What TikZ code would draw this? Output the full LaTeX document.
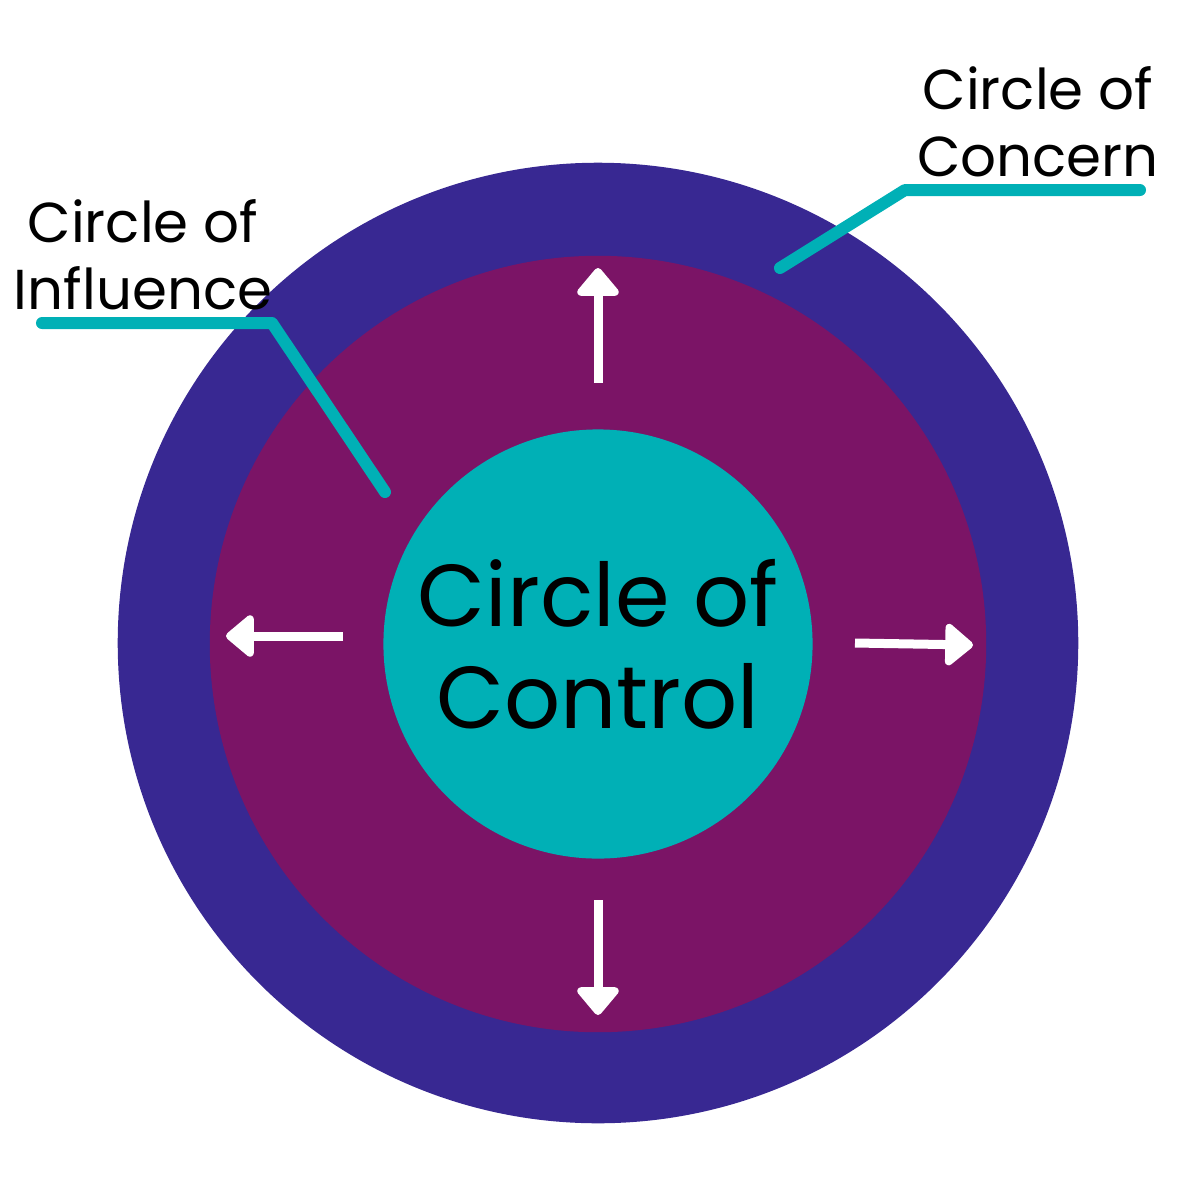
\documentclass[tikz,border=0pt]{standalone}
\usepackage{fontspec}
\setmainfont{Poppins}
\usetikzlibrary{arrows.meta,positioning}
\definecolor{concern}{HTML}{382892}
\definecolor{influence}{HTML}{7B1466}
\definecolor{control}{HTML}{00B0B6}
\tikzset{
    ring/.style={circle, draw=none, minimum size=#1},
    pointer/.style={draw=white, line width=0.09cm, -{Triangle[length=0.3cm,width=0.48cm,round]}},
    leader/.style={draw=control, line width=0.12cm, line cap=round, line join=round},
    label/.style={align=center, font=\fontsize{16}{19}\selectfont}
}
\begin{document}
\begin{tikzpicture}[x=0.01cm,y=-0.01cm]
    \useasboundingbox (0,0) rectangle (1181,1181);
    % rings
    \node[ring=9.6cm, fill=concern] (c1) at (598,643) {};
    \node[ring=7.76cm, fill=influence] (c2) at (598,644) {};
    \node[ring=4.18cm, fill=control, align=center, font=\fontsize{25}{29}\selectfont] (c3) at (598,644) {Circle of\\Control};
    % arrows
    \coordinate (u0) at (598,383); \coordinate (u1) at (598,268);
    \coordinate (l0) at (343,636); \coordinate (l1) at (226,636);
    \coordinate (r0) at (855,643); \coordinate (r1) at (973,645);
    \coordinate (d0) at (598,900); \coordinate (d1) at (598,1015);
    \draw[pointer] (u0) -- (u1);
    \draw[pointer] (l0) -- (l1);
    \draw[pointer] (r0) -- (r1);
    \draw[pointer] (d0) -- (d1);
    % labels
    \node[label] (concernlabel) at (1038,122) {Circle of\\Concern};
    \node[label] (influencelabel) at (143,255) {Circle of\\Influence};
    \coordinate (k0) at (780,268); \coordinate (k1) at (905,190); \coordinate (k2) at (1140,190);
    \coordinate (i0) at (385,492); \coordinate (i1) at (272,323); \coordinate (i2) at (42,323);
    \draw[leader] (k0) -- (k1) -- (k2);
    \draw[leader] (i0) -- (i1) -- (i2);
\end{tikzpicture}
\end{document}
